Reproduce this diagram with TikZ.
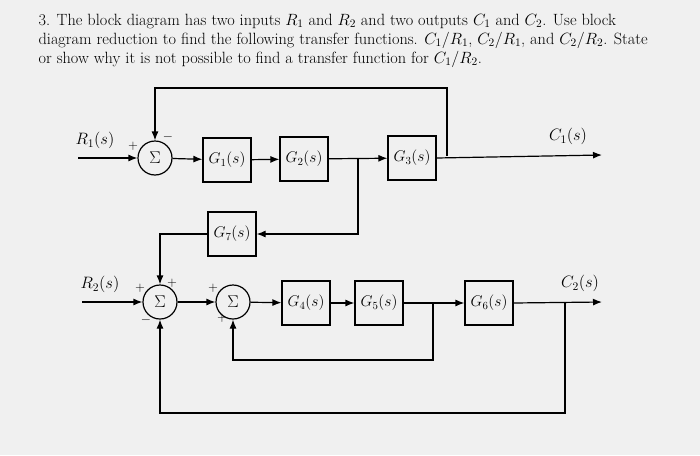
\documentclass[tikz,border=0pt]{standalone}
\usepackage{fix-cm}
\usetikzlibrary{arrows.meta}
\begin{document}
\begin{tikzpicture}[x=1pt,y=-1pt,line width=1.2pt,
  blk/.style={draw,minimum width=48pt,minimum height=44pt,inner sep=0pt,font=\fontsize{15.5}{17}\selectfont},
  sm/.style={draw,circle,minimum size=34pt,inner sep=0pt,font=\fontsize{17}{19}\selectfont},
  sig/.style={-{Latex[length=9pt,width=7pt]}},
  lab/.style={font=\fontsize{16.5}{18}\selectfont},
  sg/.style={font=\fontsize{13}{14}\selectfont,inner sep=1pt},
  tl/.style={anchor=base west,inner sep=0pt,font=\fontsize{16.3}{19}\selectfont}]
\fill[gray!12] (0,0) rectangle (700,455);
\useasboundingbox (0,0) rectangle (700,455);
\node[tl] (t1) at (38,25) {3. The block diagram has two inputs $R_1$ and $R_2$ and two outputs $C_1$ and $C_2$. Use block};
\node[tl] (t2) at (38,44) {diagram reduction to find the following transfer functions. $C_1/R_1$, $C_2/R_1$, and $C_2/R_2$. State};
\node[tl] (t3) at (38,63) {or show why it is not possible to find a transfer function for $C_1/R_2$.};
% top loop
\node[sm] (s1) at (155,158) {$\Sigma$};
\node[blk] (g1) at (227,160) {$G_1(s)$};
\node[blk] (g2) at (304,159) {$G_2(s)$};
\node[blk] (g3) at (412,158) {$G_3(s)$};
\node[blk] (g7) at (232,234) {$G_7(s)$};
% bottom
\node[sm] (s2) at (160,302) {$\Sigma$};
\node[sm] (s3) at (233,302) {$\Sigma$};
\node[blk] (g4) at (306,303) {$G_4(s)$};
\node[blk] (g5) at (379,303) {$G_5(s)$};
\node[blk] (g6) at (489,303) {$G_6(s)$};
\coordinate (r1) at (78,158);
\coordinate (c1) at (602,155);
\coordinate (r2) at (82,302);
\coordinate (c2) at (602,302);
\coordinate (b1) at (358,159);
\coordinate (b2) at (447,156);
\coordinate (b3) at (433,303);
\coordinate (b4) at (565,302);
\node[lab,anchor=south] at (95,153) {$R_1(s)$};
\node[lab,anchor=south] at (568,149) {$C_1(s)$};
\node[lab,anchor=south] at (100,297) {$R_2(s)$};
\node[lab,anchor=south] at (580,296) {$C_2(s)$};
\draw[sig] (r1) -- (s1);
\draw[sig] (s1) -- (g1);
\draw[sig] (g1) -- (g2);
\draw[sig] (g2) -- (g3);
\draw[sig] (g3.east) -- (c1);
\draw[sig] (b2) |- (155,88) -- (s1.north);
\draw[sig] (b1) |- (g7.east);
\draw[sig] (g7.west) -| (s2.north);
\draw[sig] (r2) -- (s2);
\draw[sig] (s2) -- (s3);
\draw[sig] (s3) -- (g4);
\draw[sig] (g4) -- (g5);
\draw[sig] (g5) -- (g6);
\draw[sig] (g6.east) -- (c2);
\draw[sig] (b3) |- (233,360) -- (s3.south);
\draw[sig] (b4) |- (160,413) -- (s2.south);
\node[sg] at (133,146) {$+$};
\node[sg] at (168,137) {$-$};
\node[sg] at (140,288) {$+$};
\node[sg] at (172,283) {$+$};
\node[sg] at (146,320) {$-$};
\node[sg] at (213,288) {$+$};
\node[sg] at (222,318) {$+$};
\end{tikzpicture}
\end{document}
